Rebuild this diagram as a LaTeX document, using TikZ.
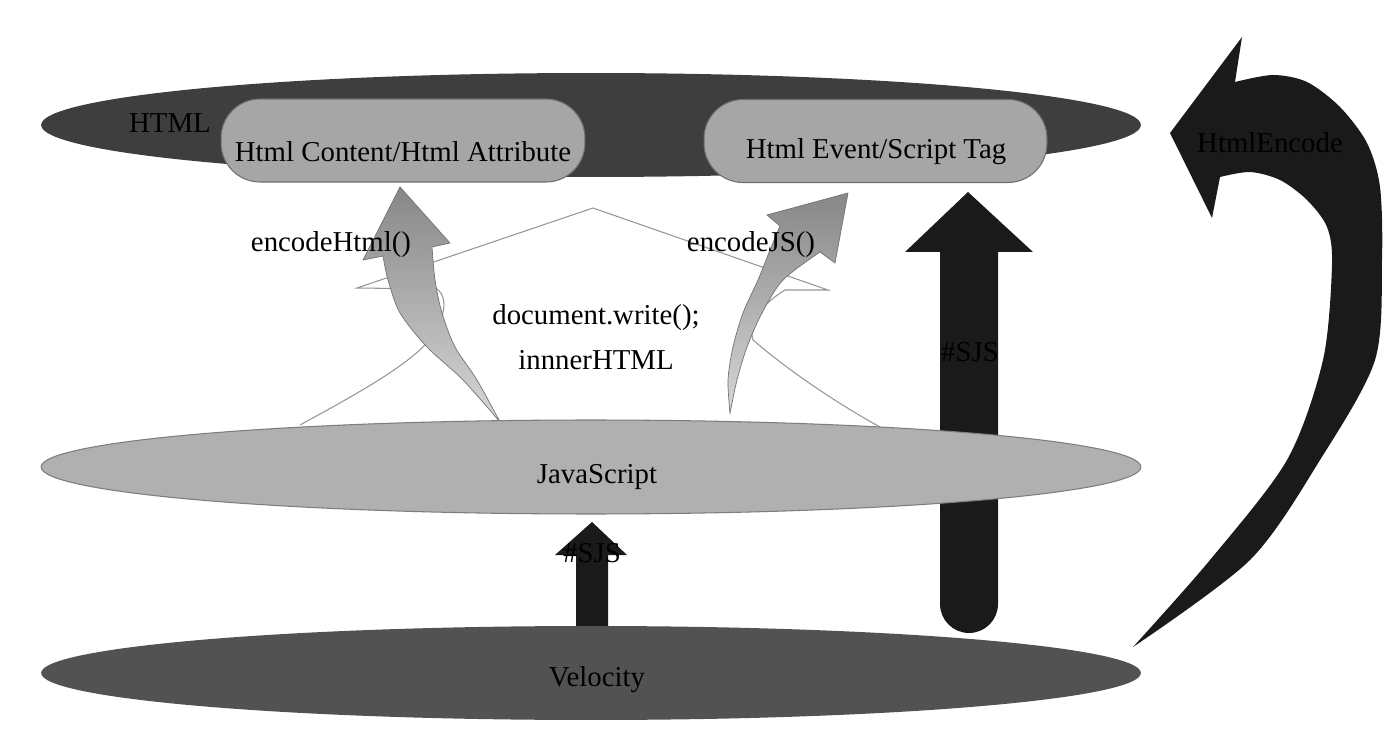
\documentclass[tikz,border=0pt]{standalone}
\usepackage{fontspec}
\setmainfont{Liberation Serif}
\usetikzlibrary{shapes.geometric}
\definecolor{htmlfill}{RGB}{62,62,62}
\definecolor{velfill}{RGB}{82,82,82}
\definecolor{jsfill}{RGB}{176,176,176}
\definecolor{jsedge}{RGB}{125,125,125}
\definecolor{boxfill}{RGB}{166,166,166}
\definecolor{boxedge}{RGB}{110,110,110}
\definecolor{tentline}{RGB}{150,150,150}
\definecolor{darkarrow}{RGB}{26,26,26}
\definecolor{gradtop}{RGB}{135,135,135}
\definecolor{gradbot}{RGB}{215,215,215}
\definecolor{gradedge}{RGB}{115,115,115}
\tikzset{
  txt/.style={font=\fontsize{16.4}{19}\selectfont, text=black, inner sep=0pt},
  layer/.style={ellipse, inner sep=0pt, minimum width=22cm, minimum height=1.88cm},
  pill/.style={draw=boxedge, fill=boxfill, line width=0.6pt, rounded corners=0.78cm, minimum height=1.66cm, inner sep=0pt},
  tent/.style={draw=tentline, line width=0.6pt},
  gradarrow/.style={draw=gradedge, line width=0.4pt, top color=gradtop, bottom color=gradbot},
  blackarrow/.style={fill=darkarrow}
}
\begin{document}
\begin{tikzpicture}[x=0.02cm,y=0.02cm]
\useasboundingbox[fill=white] (0,0) rectangle (1400,-736);

% HTML layer
\node[layer, fill=htmlfill, minimum height=2.08cm] (html) at (591,-125) {};
\node[pill, minimum width=7.28cm] (hc) at (403,-140.5) {};
\node[pill, minimum width=6.86cm] (he) at (875.5,-141) {};
\node[txt] (htmllbl) at (170,-123) {HTML};
\node[txt] (hctxt) at (403,-152) {Html Content/Html Attribute};
\node[txt] (hetxt) at (876,-152) {Html Event/Script Tag};

% tent outline
\draw[tent] (300,-425) .. controls (355,-395) and (400,-370) .. (425,-345)
  .. controls (440,-330) and (452,-300) .. (437,-289) -- (357,-288)
  -- (593,-208) -- (828,-290) -- (785,-290)
  .. controls (760,-305) and (748,-325) .. (753,-340)
  .. controls (790,-372) and (840,-405) .. (880,-427);

% gradient arrows
\path[gradarrow] plot[smooth] coordinates {(500,-422) (463,-380) (427,-347) (400,-313) (388,-280) (383,-256)}
  -- (363,-260) -- (400,-187) -- (450,-243) -- (432,-247)
  -- plot[smooth] coordinates {(432,-247) (435,-280) (442,-313) (455,-347) (477,-380) (500,-422)} -- cycle;
\path[gradarrow] plot[smooth] coordinates {(730,-413) (728,-380) (733,-347) (743,-313) (758,-280) (770,-250) (780,-226)}
  -- (767,-215) -- (848,-193) -- (835,-263) -- (820,-252)
  -- plot[smooth] coordinates {(820,-252) (783,-280) (762,-313) (747,-347) (737,-380) (730,-413)} -- cycle;

\node[txt] (enchtml) at (331,-245) {encodeHtml()};
\node[txt] (encjs) at (751,-245) {encodeJS()};
\node[txt] (docw) at (596,-318) {document.write();};
\node[txt] (inner) at (596,-360) {innnerHTML};

% big #SJS arrow
\path[blackarrow] (940,-604) -- (940,-252) -- (905,-252) -- (968,-192) -- (1033,-252)
  -- (998,-252) -- (998,-604) arc[start angle=0, end angle=-180, radius=0.58cm] -- cycle;
\node[txt] (sjsbig) at (970,-352) {\#SJS};

% JavaScript layer
\node[layer, draw=jsedge, line width=0.6pt, fill=jsfill] (js) at (591,-467) {};
\node[txt] (jstxt) at (597,-477) {JavaScript};

% small #SJS arrow
\path[blackarrow] (576,-630) -- (576,-555) -- (555,-555) -- (592,-522) -- (627,-555)
  -- (608,-555) -- (608,-630) -- cycle;
\node[txt] (sjssmall) at (592,-553) {\#SJS};

% Velocity layer
\node[layer, fill=velfill] (vel) at (591,-673) {};
\node[txt] (veltxt) at (597,-680) {Velocity};

% HtmlEncode arrow
\path[blackarrow] plot[smooth] coordinates {(1133,-647) (1250,-560) (1320,-460) (1375,-360) (1382,-260) (1380,-187) (1367,-143) (1340,-107) (1307,-82) (1273,-75) (1235,-82)}
  -- (1242,-37) -- (1170,-133) -- (1212,-218) -- (1220,-177)
  -- plot[smooth] coordinates {(1220,-177) (1250,-172) (1280,-180) (1307,-200) (1327,-227) (1332,-265) (1323,-360) (1287,-460) (1210,-560) (1133,-647)} -- cycle;
\node[txt] (htmlenc) at (1270,-143) {HtmlEncode};
\end{tikzpicture}
\end{document}
